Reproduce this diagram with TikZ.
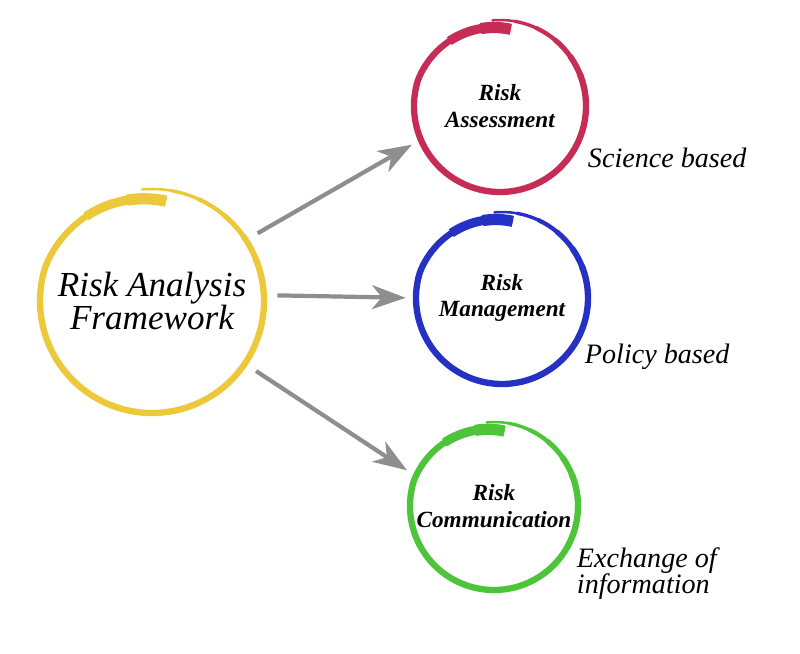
\documentclass[tikz,border=0pt]{standalone}
\usepackage{fontspec}
\setmainfont{Liberation Serif}
\usetikzlibrary{arrows.meta,positioning,calc}
\definecolor{riskyellow}{HTML}{EBC93A}
\definecolor{riskred}{HTML}{C72C57}
\definecolor{riskblue}{HTML}{2431C2}
\definecolor{riskgreen}{HTML}{4EC43A}
\definecolor{arrowgray}{HTML}{8E8E8E}
\tikzset{
  link/.style={-{Stealth[length=24pt,width=17pt,inset=7pt]}, line width=3pt, arrowgray, shorten <=0.33cm, shorten >=0.25cm},
  hub/.style={circle, inner sep=0pt, minimum size=5.6cm, align=center, font=\itshape\fontsize{25}{24}\selectfont},
  leaf/.style={circle, inner sep=0pt, minimum size=4.3cm, align=center, font=\bfseries\itshape\fontsize{16.5}{19}\selectfont},
  note/.style={anchor=west, align=left, font=\itshape\fontsize{20}{18.5}\selectfont},
  brush/.style={line width=4.5pt, line cap=butt}
}
\begin{document}
\begin{tikzpicture}
  \useasboundingbox (0,0) rectangle (20,16.325);
  % circles with their labels
  \node[hub]  (ram) at (3.80,8.80)  {Risk Analysis\\Framework};
  \node[leaf] (ra)  at (12.50,13.675) {Risk\\Assessment};
  \node[leaf] (rm)  at (12.55,8.875) {Risk\\Management};
  \node[leaf, minimum size=4.2cm] (rc) at (12.35,3.675) {Risk\\Communication};
  % brush strokes round the circles
  \foreach \c/\col/\R in {ram/riskyellow/2.80, ra/riskred/2.15, rm/riskblue/2.15, rc/riskgreen/2.10}{
    \begin{scope}[shift={(\c.center)}]
      \draw[brush, \col] plot[domain=82:382, samples=90, smooth] (\x:{\R*(1-0.1*max(0,1-(\x-82)/80))});
      \draw[brush, \col, line width=8pt] plot[domain=82:104, samples=10, smooth] (\x:{\R*(1-0.1*max(0,1-(\x-82)/80))});
      \draw[brush, \col, line width=6.5pt] plot[domain=102:128, samples=10, smooth] (\x:{\R*(1-0.1*max(0,1-(\x-82)/80))});
      \foreach \a/\w in {380/4.2, 395/3.6, 410/3.0, 425/2.4, 440/1.8}
        \draw[\col, line width=\w pt, line cap=round] (\a:\R) arc[start angle=\a, end angle=\a+15, radius=\R];
    \end{scope}
  }
  % side notes
  \node[note] (nsci) at (14.575,12.375) {Science based};
  \node[note] (npol) at (14.50,7.40) {Policy based};
  \node[note] (nexc) at (14.30,1.975) {Exchange of\\information};
  % arrows
  \draw[link] (ram.33) -- (ra.203);
  \draw[link] (ram.3) -- (rm.180);
  \draw[link] (ram.-34) -- (rc.159);
\end{tikzpicture}
\end{document}
